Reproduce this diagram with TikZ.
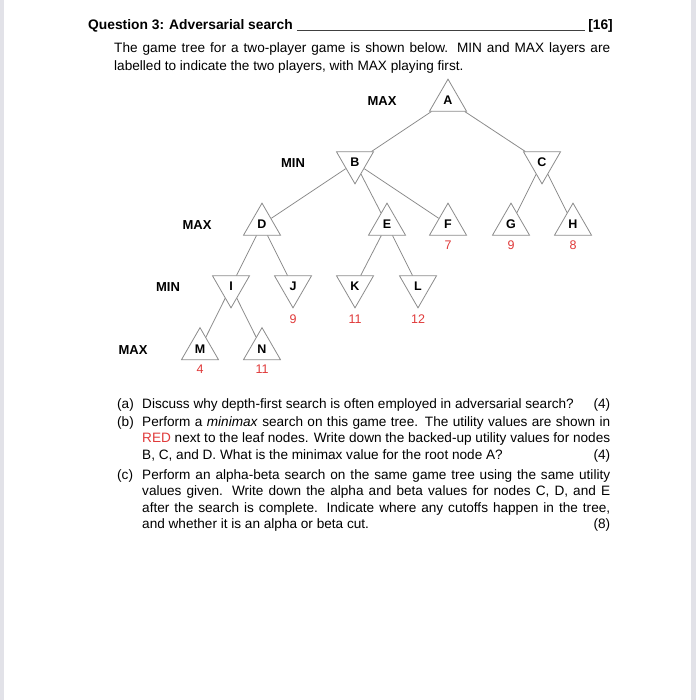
\documentclass[tikz,border=0pt]{standalone}
\usepackage{fontspec}
\setmainfont{Liberation Sans}
\usetikzlibrary{shapes.geometric,positioning}

\definecolor{leafred}{RGB}{224,58,58}
\definecolor{linegray}{RGB}{140,140,140}
\definecolor{pageedge}{RGB}{226,226,232}

% question label with hanging indent
\newcommand{\qitem}[1]{\noindent\parfillskip=0pt\hangindent=25pt\hangafter=1\makebox[25pt][l]{#1}}
\newcommand{\qmarks}[1]{\hfill(#1)\par}

\begin{document}
\begin{tikzpicture}[
    x=1pt, y=-1pt,
    maxnode/.style={regular polygon, regular polygon sides=3, draw=linegray, line width=0.8pt, minimum size=42.7pt, inner sep=0pt, font=\fontsize{12.5}{12.5}\selectfont\bfseries},
    minnode/.style={maxnode, shape border rotate=180},
    edge/.style={draw=linegray, line width=0.8pt},
    layer/.style={font=\fontsize{13}{13}\selectfont\bfseries},
    leafval/.style={text=leafred, inner sep=0pt, font=\fontsize{12.5}{12.5}\selectfont},
    heading/.style={inner sep=0pt, font=\fontsize{13.8}{16}\selectfont\bfseries},
    body/.style={inner sep=0pt, text width=496pt, align=justify, font=\fontsize{13.6}{18}\selectfont},
    question/.style={inner sep=0pt, text width=493pt, align=justify, font=\fontsize{13.6}{16.6}\selectfont},
]

% Page
\useasboundingbox (0,0) rectangle (696,700);
\fill[white] (0,0) rectangle (696,700);
\fill[pageedge] (0,0) rectangle (4,700);
\fill[pageedge] (691,0) rectangle (696,700);

% Heading
\node[heading, anchor=base west] (title) at (88,30) {Question 3: Adversarial search};
\node[heading, anchor=base east] (marks) at (613,30) {[16]};
\draw[black!75, line width=0.6pt] ([xshift=4pt]title.base east) -- ([xshift=-3pt]marks.base west);

\node[body, anchor=north west] (intro) at (114,42) {The game tree for a two-player game is shown below. MIN and MAX layers are\linebreak labelled to indicate the two players, with MAX playing first.};

% Layer labels
\node[layer] (lab0) at (382,101) {MAX};
\node[layer] (lab1) at (293,163) {MIN};
\node[layer] (lab2) at (197,225) {MAX};
\node[layer] (lab3) at (168,287) {MIN};
\node[layer] (lab4) at (133,350) {MAX};

% Root
\node[maxnode] (A) at (448,100.5) {A};

% MIN layer
\node[minnode] (B) at (355,162.5) {B};
\node[minnode] (C) at (542,162.5) {C};

% MAX layer
\node[maxnode] (D) at (262,224.5) {D};
\node[maxnode] (E) at (387,224.5) {E};
\node[maxnode] (F) at (448,224.5) {F};
\node[maxnode] (G) at (511,224.5) {G};
\node[maxnode] (H) at (573,224.5) {H};

% MIN layer
\node[minnode] (I) at (231,286.5) {I};
\node[minnode] (J) at (293,286.5) {J};
\node[minnode] (K) at (355,286.5) {K};
\node[minnode] (L) at (418,286.5) {L};

% MAX layer
\node[maxnode] (M) at (200,349) {M};
\node[maxnode] (N) at (262,349) {N};

\draw[edge] (A) -- (B);
\draw[edge] (A) -- (C);
\draw[edge] (B) -- (D);
\draw[edge] (B) -- (E);
\draw[edge] (B) -- (F);
\draw[edge] (C) -- (G);
\draw[edge] (C) -- (H);
\draw[edge] (D) -- (I);
\draw[edge] (D) -- (J);
\draw[edge] (E) -- (K);
\draw[edge] (E) -- (L);
\draw[edge] (I) -- (M);
\draw[edge] (I) -- (N);

% Utility values
\node[leafval, below=5pt of F] (valF) {7};
\node[leafval, below=5pt of G] (valG) {9};
\node[leafval, below=5pt of H] (valH) {8};
\node[leafval, below=6pt of J] (valJ) {9};
\node[leafval, below=6pt of K] (valK) {11};
\node[leafval, below=6pt of L] (valL) {12};
\node[leafval, below=5pt of M] (valM) {4};
\node[leafval, below=5pt of N] (valN) {11};

% Questions
\node[question, anchor=north west] (qa) at (117,398) {\qitem{(a)}Discuss why depth-first search is often employed in adversarial search?\qmarks{4}};
\node[question, anchor=north west] (qb) at (117,416) {\qitem{(b)}Perform a \textit{minimax} search on this game tree. The utility values are shown in\linebreak \textcolor{leafred}{RED} next to the leaf nodes. Write down the backed-up utility values for nodes\linebreak B, C, and D. What is the minimax value for the root node A?\qmarks{4}};
\node[question, anchor=north west] (qc) at (117,469) {\qitem{(c)}Perform an alpha-beta search on the same game tree using the same utility\linebreak values given. Write down the alpha and beta values for nodes C, D, and E\linebreak after the search is complete. Indicate where any cutoffs happen in the tree,\linebreak and whether it is an alpha or beta cut.\qmarks{8}};

\end{tikzpicture}
\end{document}
